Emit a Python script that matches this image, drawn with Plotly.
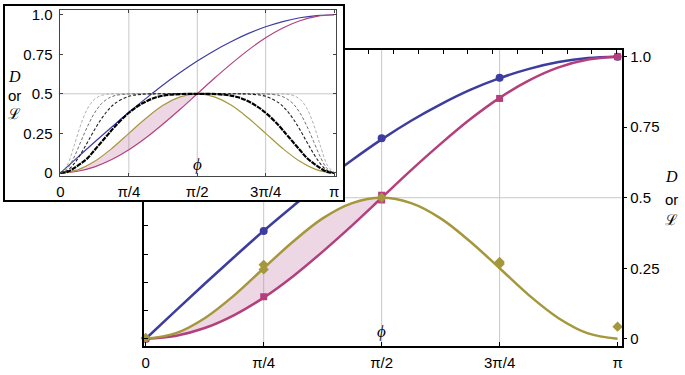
import math
import plotly.graph_objects as go

PI = math.pi

# ---------------- data (phi given in units of pi) ----------------
PHI_CURVE = [0, 0.0625, 0.125, 0.1875, 0.25, 0.3125, 0.375, 0.4375, 0.5,
             0.5625, 0.625, 0.6875, 0.75, 0.8125, 0.875, 0.9375, 1.0]
D_CURVE = [0.0, 0.098, 0.195, 0.290, 0.383, 0.471, 0.556, 0.634, 0.707,
           0.773, 0.831, 0.882, 0.924, 0.957, 0.981, 0.995, 1.0]
L_CURVE = [0.0, 0.010, 0.038, 0.084, 0.146, 0.222, 0.309, 0.402, 0.5,
           0.598, 0.691, 0.778, 0.854, 0.916, 0.962, 0.990, 1.0]
S_CURVE = [0.0, 0.019, 0.073, 0.154, 0.25, 0.345, 0.427, 0.481, 0.5,
           0.481, 0.427, 0.345, 0.25, 0.154, 0.073, 0.019, 0.0]
FILL_N = 9  # points with phi <= pi/2 (shaded region)

# inset family of plateau curves
PHI_FAM = [0, 0.025, 0.05, 0.075, 0.1, 0.125, 0.15, 0.175, 0.2, 0.25, 0.3, 0.35, 0.4, 0.5,
           0.6, 0.65, 0.7, 0.75, 0.8, 0.825, 0.85, 0.875, 0.9, 0.925, 0.95, 0.975, 1.0]
FAM_1 = [0.0, 0.006, 0.03, 0.06, 0.095, 0.145, 0.195, 0.245, 0.295, 0.38, 0.44, 0.478, 0.494, 0.5,
         0.494, 0.478, 0.44, 0.38, 0.295, 0.245, 0.195, 0.145, 0.095, 0.06, 0.03, 0.006, 0.0]
FAM_2 = [0.0, 0.015, 0.058, 0.122, 0.197, 0.274, 0.343, 0.399, 0.44, 0.484, 0.497, 0.5, 0.5, 0.5,
         0.5, 0.5, 0.497, 0.484, 0.44, 0.399, 0.343, 0.274, 0.197, 0.122, 0.058, 0.015, 0.0]
FAM_3 = [0.0, 0.027, 0.10, 0.20, 0.298, 0.38, 0.438, 0.471, 0.489, 0.499, 0.5, 0.5, 0.5, 0.5,
         0.5, 0.5, 0.5, 0.499, 0.489, 0.471, 0.438, 0.38, 0.298, 0.20, 0.10, 0.027, 0.0]
FAM_4 = [0.0, 0.05, 0.172, 0.308, 0.41, 0.466, 0.49, 0.498, 0.4995, 0.5, 0.5, 0.5, 0.5, 0.5,
         0.5, 0.5, 0.5, 0.5, 0.4995, 0.498, 0.49, 0.466, 0.41, 0.308, 0.172, 0.05, 0.0]

# measured points (main panel)
PHI_PTS_D = [0, 0.25, 0.5, 0.75, 1.0]
D_PTS = [0.0, 0.382, 0.711, 0.925, 1.0]
D_ERR = [0.004, 0.008, 0.011, 0.008, 0.004]
PHI_PTS_L = [0, 0.25, 0.5, 0.5, 0.75, 1.0]
L_PTS = [0.0, 0.149, 0.509, 0.492, 0.852, 1.0]
L_ERR = [0.003, 0.004, 0.004, 0.004, 0.004, 0.003]
PHI_PTS_S = [0, 0.25, 0.25, 0.5, 0.75, 0.75, 1.0]
S_PTS = [0.003, 0.262, 0.246, 0.5, 0.272, 0.265, 0.043]
S_ERR = [0.003, 0.004, 0.004, 0.004, 0.005, 0.005, 0.003]

X_TICKS = [0, 0.25, 0.5, 0.75, 1.0]
X_TICKTEXT = ["0", "π/4", "π/2", "3π/4", "π"]
Y_TICKS = [0, 0.25, 0.5, 0.75, 1.0]
Y_TICKTEXT = ["0", "0.25", "0.5", "0.75", "1.0"]
GRID_X = [0.25, 0.5, 0.75]
GRID_Y = [0.5]

# ---------------- style ----------------
BLUE = "#3d3da0"
MAG = "#b3407c"
OLIVE = "#a5973c"
FILL = "rgba(190,110,160,0.28)"
GRID = "#c8c8c8"
W, H = 685, 375


def px_x(p):
    return p / W


def px_y(p):
    return 1 - p / H


def rad(lst):
    return [v * PI for v in lst]


fig = go.Figure()

# ---------- main panel ----------
fig.add_trace(go.Scatter(x=rad(PHI_CURVE[:FILL_N]), y=L_CURVE[:FILL_N], mode="lines",
                         line=dict(width=0, shape="spline"), xaxis="x", yaxis="y", hoverinfo="skip"))
fig.add_trace(go.Scatter(x=rad(PHI_CURVE[:FILL_N]), y=S_CURVE[:FILL_N], mode="lines",
                         line=dict(width=0, shape="spline"), fill="tonexty", fillcolor=FILL,
                         xaxis="x", yaxis="y", hoverinfo="skip"))
for ys, col in [(D_CURVE, BLUE), (L_CURVE, MAG), (S_CURVE, OLIVE)]:
    fig.add_trace(go.Scatter(x=rad(PHI_CURVE), y=ys, mode="lines",
                             line=dict(color=col, width=2.5, shape="spline"),
                             xaxis="x", yaxis="y", hoverinfo="skip"))
for xs, ys, es, col, sym, sz in [(PHI_PTS_D, D_PTS, D_ERR, BLUE, "circle", 8),
                                 (PHI_PTS_L, L_PTS, L_ERR, MAG, "square", 7),
                                 (PHI_PTS_S, S_PTS, S_ERR, OLIVE, "diamond", 8)]:
    fig.add_trace(go.Scatter(x=rad(xs), y=ys, mode="markers",
                             marker=dict(color=col, symbol=sym, size=sz, line=dict(width=0)),
                             error_y=dict(type="data", array=es, color=col, thickness=3, width=0),
                             xaxis="x", yaxis="y", cliponaxis=False, hoverinfo="skip"))

# dummy traces to create overlay axes (top / left ticks of main) and inset box
fig.add_trace(go.Scatter(x=[-5], y=[-5], mode="markers", marker=dict(opacity=0), xaxis="x4", yaxis="y", hoverinfo="skip"))
fig.add_trace(go.Scatter(x=[-5], y=[-5], mode="markers", marker=dict(opacity=0), xaxis="x", yaxis="y4", hoverinfo="skip"))
fig.add_trace(go.Scatter(x=[-5], y=[-5], mode="markers", marker=dict(opacity=0), xaxis="x2", yaxis="y2", hoverinfo="skip"))

# ---------- inset ----------
fig.add_trace(go.Scatter(x=rad(PHI_CURVE[:FILL_N]), y=L_CURVE[:FILL_N], mode="lines",
                         line=dict(width=0, shape="spline"), xaxis="x3", yaxis="y3", hoverinfo="skip"))
fig.add_trace(go.Scatter(x=rad(PHI_CURVE[:FILL_N]), y=S_CURVE[:FILL_N], mode="lines",
                         line=dict(width=0, shape="spline"), fill="tonexty", fillcolor=FILL,
                         xaxis="x3", yaxis="y3", hoverinfo="skip"))
for ys, col in [(D_CURVE, BLUE), (L_CURVE, MAG), (S_CURVE, OLIVE)]:
    fig.add_trace(go.Scatter(x=rad(PHI_CURVE), y=ys, mode="lines",
                             line=dict(color=col, width=1.2, shape="spline"),
                             xaxis="x3", yaxis="y3", hoverinfo="skip"))
for ys, col, wd, dash in [(FAM_4, "#a8a8a8", 0.9, "3px,2px"),
                          (FAM_3, "#707070", 1.0, "3px,2px"),
                          (FAM_2, "#202020", 1.1, "3px,2px"),
                          (FAM_1, "#000000", 2.2, "5px,1px")]:
    fig.add_trace(go.Scatter(x=rad(PHI_FAM), y=ys, mode="lines",
                             line=dict(color=col, width=wd, dash=dash, shape="spline"),
                             xaxis="x3", yaxis="y3", hoverinfo="skip"))

# ---------- axes ----------
MX = [-0.0132, PI + 0.0264]
MY = [-0.0242, 1.0242]
IX = [-0.011, PI + 0.023]
IY = [-0.0185, 1.031]
common = dict(showgrid=False, zeroline=False, showline=True, linecolor="black")

fig.update_layout(
    width=W, height=H, margin=dict(l=0, r=0, t=0, b=0),
    paper_bgcolor="white", plot_bgcolor="white", showlegend=False,
    font=dict(family="Liberation Sans, Arial, sans-serif", size=15, color="black"),
    xaxis=dict(domain=[px_x(142), px_x(624)], range=MX, anchor="y",
               tickvals=rad(X_TICKS), ticktext=X_TICKTEXT, ticks="inside", ticklen=4,
               linewidth=1.5, tickcolor="black", ticklabelstandoff=3, **common),
    yaxis=dict(domain=[px_y(350), px_y(47)], range=MY, anchor="x", side="right",
               tickvals=Y_TICKS, ticktext=Y_TICKTEXT, ticks="outside", ticklen=4,
               linewidth=1.5, tickcolor="black", **common),
    xaxis4=dict(overlaying="x", anchor="y", side="top", range=MX,
                tickvals=[i * 0.165 for i in range(1, 20)], ticks="inside", ticklen=4,
                showticklabels=False, linewidth=1.5, tickcolor="black", **common),
    yaxis4=dict(overlaying="y", anchor="x", side="left", range=MY,
                tick0=0, dtick=0.1, ticks="inside", ticklen=4,
                showticklabels=False, linewidth=1.5, tickcolor="black", **common),
    xaxis2=dict(domain=[px_x(2), px_x(343)], range=[0, 1], anchor="y2",
                showticklabels=False, ticks="", mirror=True, linewidth=2, **common),
    yaxis2=dict(domain=[px_y(201), px_y(2)], range=[0, 1], anchor="x2",
                showticklabels=False, ticks="", mirror=True, linewidth=2, **common),
    xaxis3=dict(domain=[px_x(57), px_x(336)], range=IX, anchor="y3",
                tickvals=rad(X_TICKS), ticktext=X_TICKTEXT, ticks="inside", ticklen=3,
                mirror="ticks", linewidth=1, linecolor="#444",
                tickcolor="#444", ticklabelstandoff=2,
                showgrid=False, zeroline=False, showline=True),
    yaxis3=dict(domain=[px_y(176), px_y(6)], range=IY, anchor="x3",
                tickvals=Y_TICKS, ticktext=Y_TICKTEXT, ticks="inside", ticklen=3,
                mirror="ticks", linewidth=1, linecolor="#444", tickcolor="#444",
                ticklabelstandoff=3,
                showgrid=False, zeroline=False, showline=True),
)

# gridlines (drawn below traces in each subplot)
shapes = []
for xr, yr, yrange, xrange_ in [("x", "y", MY, MX), ("x3", "y3", IY, IX)]:
    for gx in GRID_X:
        shapes.append(dict(type="line", xref=xr, yref=yr, x0=gx * PI, x1=gx * PI,
                           y0=yrange[0], y1=yrange[1], layer="below",
                           line=dict(color=GRID, width=1)))
    for gy in GRID_Y:
        shapes.append(dict(type="line", xref=xr, yref=yr, x0=xrange_[0], x1=xrange_[1],
                           y0=gy, y1=gy, layer="below", line=dict(color=GRID, width=1)))
fig.update_layout(shapes=shapes)

# text labels
SERIF = "Liberation Serif, DejaVu Serif, serif"
ann = [
    dict(text="<i>ϕ</i>", xref="x", yref="y", x=0.5 * PI, y=0.025, font=dict(family=SERIF, size=17)),
    dict(text="<i>ϕ</i>", xref="x3", yref="y3", x=0.5 * PI, y=0.05, font=dict(family=SERIF, size=17)),
    dict(text="<i>D</i>", xref="paper", yref="paper", x=px_x(674), y=px_y(177), font=dict(family=SERIF, size=16)),
    dict(text="or", xref="paper", yref="paper", x=px_x(674), y=px_y(200), font=dict(size=15)),
    dict(text="ℒ", xref="paper", yref="paper", x=px_x(674), y=px_y(221), font=dict(family="DejaVu Serif, serif", size=15)),
    dict(text="<i>D</i>", xref="paper", yref="paper", x=px_x(12), y=px_y(74), font=dict(family=SERIF, size=16)),
    dict(text="or", xref="paper", yref="paper", x=px_x(12), y=px_y(94), font=dict(size=15)),
    dict(text="ℒ", xref="paper", yref="paper", x=px_x(12), y=px_y(113), font=dict(family="DejaVu Serif, serif", size=15)),
]
for a in ann:
    a.update(showarrow=False, xanchor="center", yanchor="middle")
fig.update_layout(annotations=ann)

fig.write_html("out.html", config={"displayModeBar": False},
               post_script="document.body.style.margin='0';document.body.style.overflow='hidden';")
